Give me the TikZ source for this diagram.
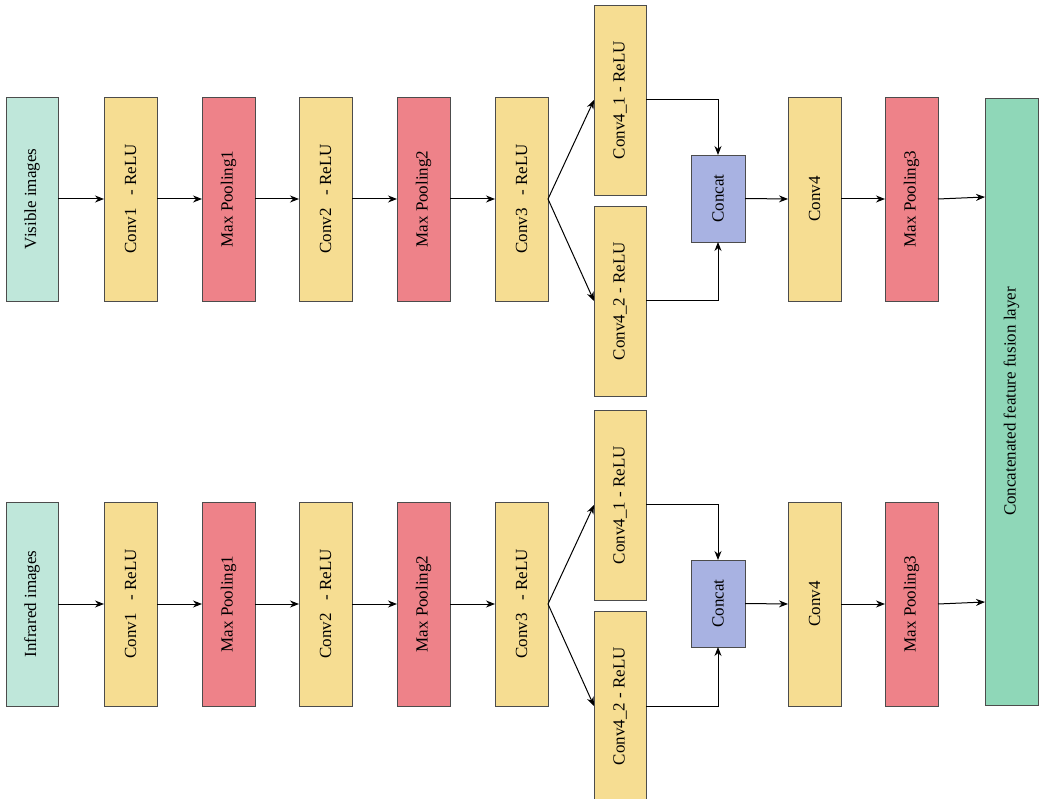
\documentclass[tikz,border=0pt]{standalone}
\usepackage{fontspec}
\setmainfont{Liberation Serif}
\usetikzlibrary{arrows.meta}
\definecolor{cin}{HTML}{BFE7DA}
\definecolor{cconv}{HTML}{F6DD92}
\definecolor{cpool}{HTML}{EE8289}
\definecolor{ccat}{HTML}{A8B2E2}
\definecolor{cfuse}{HTML}{8FD7B8}
\begin{document}
\begin{tikzpicture}[x=1pt,y=-1pt,
 box/.style={draw=black!70,line width=0.6pt,minimum width=53pt,inner sep=0pt,
   font=\fontsize{17}{19}\selectfont},
 lbl/.style={rotate=90,font=\fontsize{17}{19}\selectfont},
 arr/.style={-{Stealth[length=9pt,width=7pt]},line width=1pt}]
\useasboundingbox (0,0) rectangle (1045,799);
\newcommand{\mybox}[7]{% name,x1,y1,x2,y2,color,text
 \fill[#6] (#2,#3) rectangle (#4,#5);
 \draw[black!70,line width=0.6pt] (#2,#3) rectangle (#4,#5);
 \node[lbl] (#1) at ({(#2+#4)/2},{(#3+#5)/2}) {#7};
 \coordinate (#1w) at (#2,{(#3+#5)/2});
 \coordinate (#1e) at (#4,{(#3+#5)/2});
 \coordinate (#1n) at ({(#2+#4)/2},#3);
 \coordinate (#1s) at ({(#2+#4)/2},#5);}
\newcommand{\branch}[3]{% prefix, top y offset, input label
 \mybox{#1in}{6}{#2}{58}{#2+204}{cin}{#3}
 \mybox{#1c1}{104}{#2}{157}{#2+204}{cconv}{Conv1\ \ \ - ReLU}
 \mybox{#1p1}{202}{#2}{255}{#2+204}{cpool}{Max Pooling1}
 \mybox{#1c2}{299}{#2}{352}{#2+204}{cconv}{Conv2\ \ \ - ReLU}
 \mybox{#1p2}{397}{#2}{450}{#2+204}{cpool}{Max Pooling2}
 \mybox{#1c3}{495}{#2}{548}{#2+204}{cconv}{Conv3\ \ \ - ReLU}
 \mybox{#1a}{594}{#2-92}{646}{#2+98}{cconv}{Conv4\_1 - ReLU}
 \mybox{#1b}{594}{#2+109}{646}{#2+299}{cconv}{Conv4\_2 - ReLU}
 \mybox{#1cat}{691}{#2+58}{745}{#2+145}{ccat}{Concat}
 \mybox{#1c4}{788}{#2}{841}{#2+204}{cconv}{Conv4}
 \mybox{#1p3}{885}{#2}{938}{#2+204}{cpool}{Max Pooling3}
 \draw[arr] (#1ine) -- (#1c1w);
 \draw[arr] (#1c1e) -- (#1p1w);
 \draw[arr] (#1p1e) -- (#1c2w);
 \draw[arr] (#1c2e) -- (#1p2w);
 \draw[arr] (#1p2e) -- (#1c3w);
 \draw[arr] (#1c3e) -- (#1aw);
 \draw[arr] (#1c3e) -- (#1bw);
 \draw[arr] (#1ae) -| (#1catn);
 \draw[arr] (#1be) -| (#1cats);
 \draw[arr] (#1cate) -- (#1c4w);
 \draw[arr] (#1c4e) -- (#1p3w);
 \coordinate (#1f) at (985,#2+100);
 \draw[arr] (#1p3e) -- (#1f);}
\branch{t}{97}{Visible images}
\branch{b}{502}{Infrared images}
\mybox{fuse}{985}{98}{1038}{705}{cfuse}{Concatenated feature fusion layer}
\end{tikzpicture}
\end{document}
